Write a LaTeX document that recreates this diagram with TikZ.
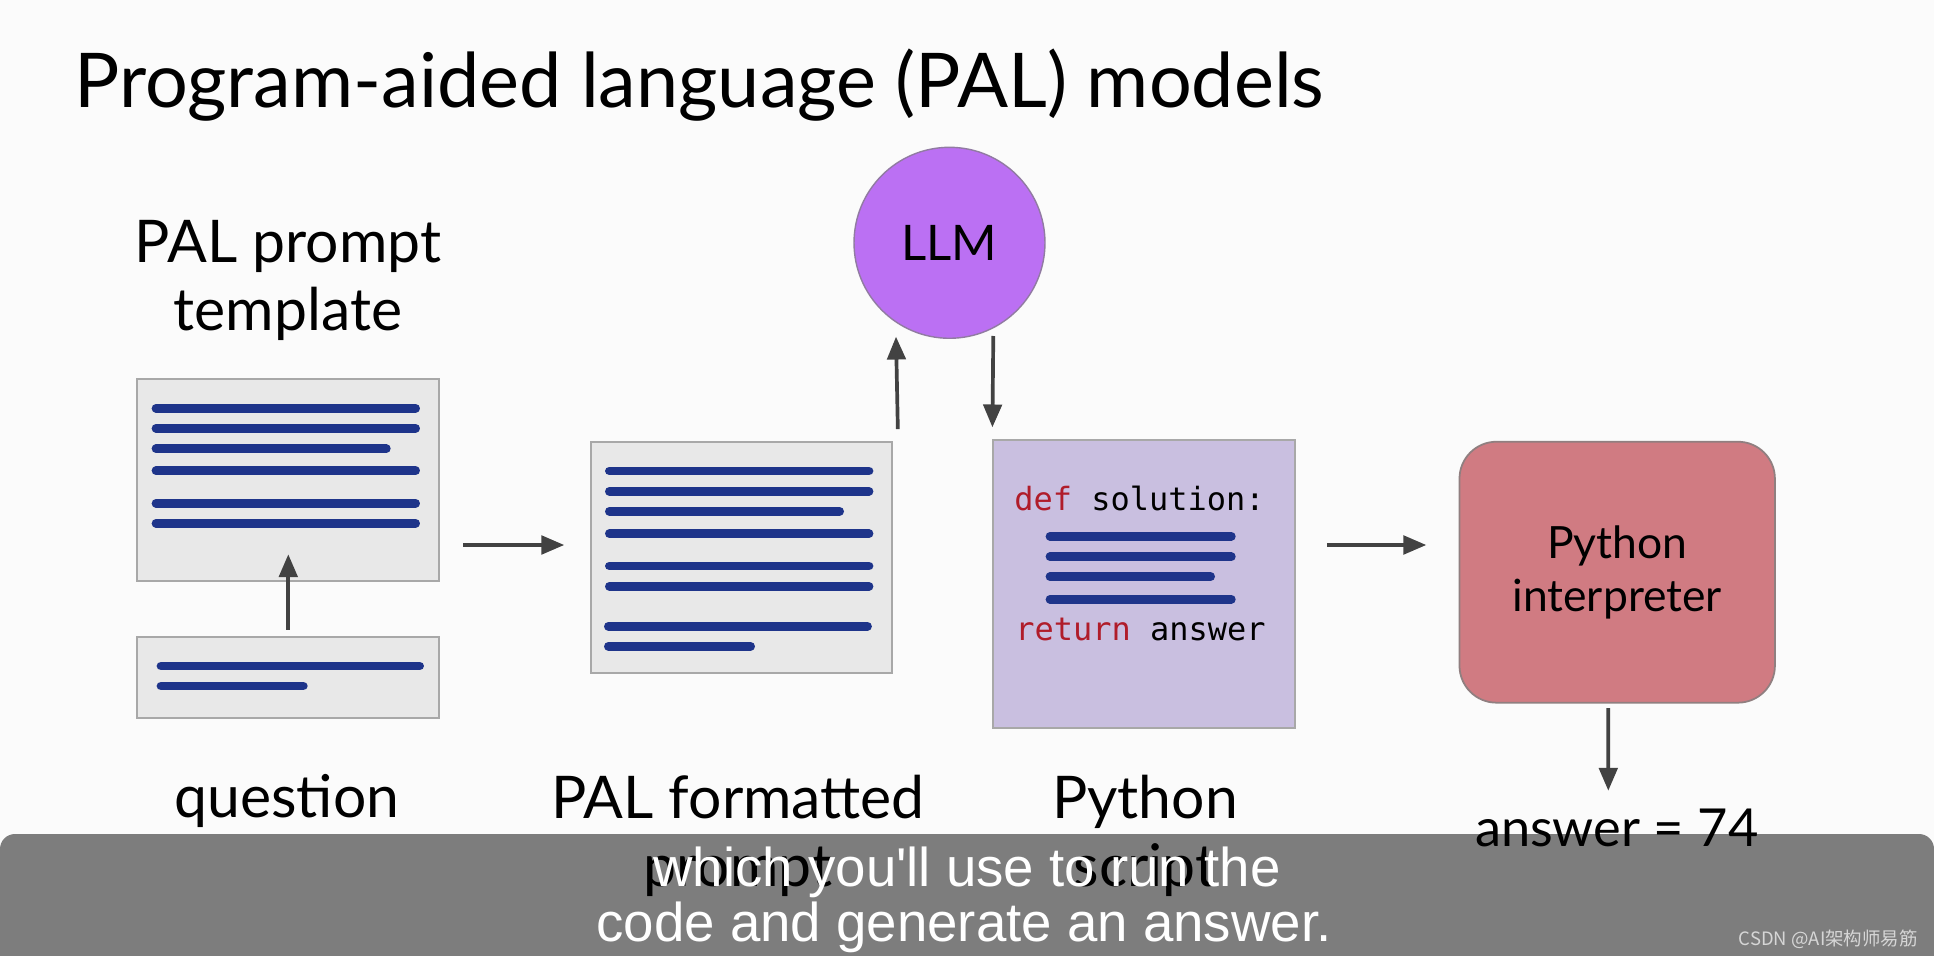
\documentclass[tikz,border=0pt]{standalone}
\usepackage{fontspec}
\setmainfont{Lato}
\newfontfamily\codefont{DejaVu Sans Mono}
\newfontfamily\capfont{Liberation Sans}
\newfontfamily\cjkfont{Noto Sans CJK SC}
\usepackage{xcolor}
\usepackage{tikz}
\usetikzlibrary{arrows.meta,positioning,calc}

\definecolor{paper}{RGB}{251,251,251}
\definecolor{boxgray}{RGB}{232,232,232}
\definecolor{edgegray}{RGB}{168,168,168}
\definecolor{navy}{RGB}{30,52,138}
\definecolor{llmpurple}{RGB}{187,112,243}
\definecolor{scriptlav}{RGB}{201,191,224}
\definecolor{interpred}{RGB}{208,123,130}
\definecolor{codered}{RGB}{176,28,42}
\definecolor{arrowgray}{RGB}{66,66,66}
\definecolor{markgray}{RGB}{214,214,214}

\tikzset{
  DOC/.style={draw=edgegray, fill=boxgray, rectangle, line width=1.1pt, inner sep=0pt},
  TL/.style={draw=navy, line width=5pt, line cap=round},
  LBL/.style={font=\fontsize{33.5}{38.7}\selectfont, align=center, inner sep=0pt},
  CODE/.style={font=\codefont\fontsize{18.2}{20}\selectfont, inner sep=0pt, anchor=base west},
  SUB/.style={font=\capfont\fontsize{31.1}{34}\selectfont, text=white, inner sep=0pt, anchor=base},
  SA/.style={-{Triangle[length=13pt, width=10.5pt]}, draw=arrowgray, line width=2.1pt}
}

\begin{document}
\begin{tikzpicture}[x=0.02cm, y=-0.02cm]

\useasboundingbox (0,0) rectangle (1934,956);
\fill[paper] (0,0) rectangle (1934,956);

% ---- Title ----
\node[anchor=base west, inner sep=0pt, font=\fontsize{43}{50}\selectfont] (title)
    at (74,108) {Program-aided language (PAL) models};

% ---- Prompt template and question ----
\node[LBL, anchor=base] (tmpllbl) at (288,330) {PAL prompt\\template};
\node[DOC, minimum width=6.04cm, minimum height=4.03cm] (tmpl) at (288.3,480) {};
\draw[TL] (156,408.3) -- (415.6,408.3);
\draw[TL] (156,428.3) -- (415.6,428.3);
\draw[TL] (156,448.7) -- (386.3,448.7);
\draw[TL] (156,470.7) -- (415.6,470.7);
\draw[TL] (156,503.3) -- (415.6,503.3);
\draw[TL] (156,523.3) -- (415.6,523.3);

\node[DOC, minimum width=6.04cm, minimum height=1.63cm] (quest) at (288.3,677.5) {};
\draw[TL] (161,666) -- (419.6,666);
\draw[TL] (161,686) -- (303.3,686);
\node[LBL, anchor=base] (questlbl) at (287,817) {question};

% ---- PAL formatted prompt ----
\node[DOC, minimum width=6.02cm, minimum height=4.62cm] (fmt) at (741.7,557.8) {};
\draw[TL] (609.4,471) -- (869,471);
\draw[TL] (609.4,491.3) -- (869,491.3);
\draw[TL] (609.4,511.3) -- (839.6,511.3);
\draw[TL] (609.4,533.7) -- (869,533.7);
\draw[TL] (609.4,566) -- (869,566);
\draw[TL] (609.4,586.3) -- (869,586.3);
\draw[TL] (608.4,626.3) -- (867.5,626.3);
\draw[TL] (608.4,646.3) -- (750.6,646.3);
\node[LBL, anchor=base] (fmtlbl) at (738,886) {PAL formatted\\prompt};

% ---- LLM ----
\node[circle, draw=gray!70!llmpurple, fill=llmpurple, line width=0.8pt,
      minimum size=3.82cm, inner sep=0pt, font=\fontsize{27.9}{30}\selectfont] (llm)
    at (949.5,242.8) {LLM};

% ---- Python script ----
\node[DOC, fill=scriptlav, minimum width=6.05cm, minimum height=5.77cm] (scr) at (1144,584.2) {};
\node[CODE] (defln) at (1014,510.7) {\textcolor{codered}{def} solution:};
\draw[TL] (1050,536.3) -- (1231.3,536.3);
\draw[TL] (1050,556.7) -- (1231.3,556.7);
\draw[TL] (1050,576.7) -- (1210.6,576.7);
\draw[TL] (1050,599.3) -- (1231.3,599.3);
\node[CODE] (retln) at (1015,640.7) {\textcolor{codered}{return} answer};
\node[LBL, anchor=base] (scrlbl) at (1145,886) {Python\\script};

% ---- Python interpreter ----
\node[draw=gray!80!interpred, fill=interpred, rounded corners=0.74cm, line width=1pt,
      minimum width=6.31cm, minimum height=5.22cm, align=center,
      font=\fontsize{25.3}{29.9}\selectfont] (interp)
    at (1617.2,572.2) {Python\\interpreter};
\node[anchor=base, inner sep=0pt, font=\fontsize{29.8}{32}\selectfont] (ans)
    at (1616.7,846.7) {answer = 74};

% ---- Arrows ----
\draw[SA] ([shift={(0,-6)}]quest.north) -- ([shift={(0,-27.4)}]tmpl.south);
\draw[SA] ([shift={(23,65)}]tmpl.east) -- ([shift={(-26,-12.8)}]fmt.west);
\draw[SA] ([shift={(4.7,-12.3)}]fmt.north east) -- ([shift={(-53.5,93.9)}]llm.center);
\draw[SA] ([shift={(43.8,93.2)}]llm.center) -- ([shift={(0.6,-11.7)}]scr.north west);
\draw[SA] ([shift={(30.7,-39.2)}]scr.east) -- ([shift={(-32.3,-27.2)}]interp.west);
\draw[SA] ([shift={(-8.9,4.6)}]interp.south) -- ([shift={(-8.4,-56)}]ans.base);

% ---- Subtitle bar ----
\fill[black, fill opacity=0.5, rounded corners=0.3cm] (0,834) rectangle (1934,990);
\node[SUB] (sub1) at (967,886) {which you'll use to run the};
\node[SUB] (sub2) at (964,941) {code and generate an answer.};
\node[anchor=base east, inner sep=0pt, text=markgray,
      font=\cjkfont\fontsize{10.5}{12}\selectfont] (mark)
    at (1918,945) {CSDN @AI架构师易筋};

\end{tikzpicture}
\end{document}
